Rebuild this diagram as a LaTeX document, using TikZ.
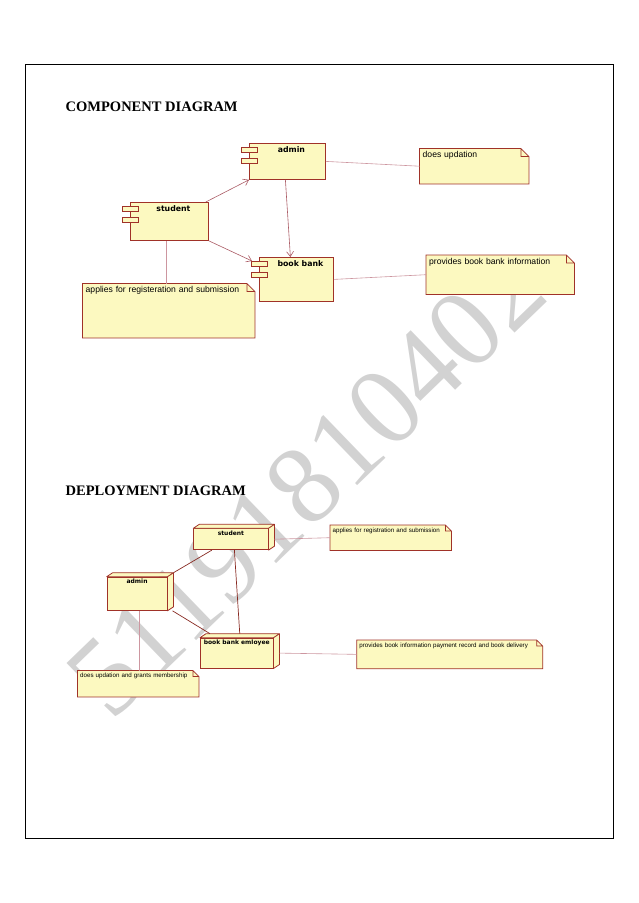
\documentclass[tikz,border=0pt]{standalone}
\usepackage{fontspec}
\setmainfont{Liberation Serif}
\newfontfamily\umlfont{DejaVu Sans}
\newfontfamily\notefont{Liberation Sans}
\usetikzlibrary{arrows.meta}

\definecolor{umlfill}{RGB}{252,249,192}
\definecolor{umlline}{RGB}{160,50,40}
\definecolor{linkline}{RGB}{170,90,100}
\definecolor{noteline}{RGB}{205,150,160}
\definecolor{markgray}{RGB}{210,210,210}

\tikzset{
  heading/.style={anchor=west, inner sep=0pt, font=\bfseries\fontsize{14.5}{17}\selectfont},
  comp/.style={draw=umlline, fill=umlfill, line width=0.8pt, anchor=north west, inner sep=3pt,
    text height=6pt, font=\umlfont\bfseries\fontsize{7.8}{9}\selectfont},
  note/.style={fill=umlfill, anchor=north west, align=left, inner sep=3pt,
    text height=6pt, font=\notefont\fontsize{8.6}{10}\selectfont},
  dnode/.style={draw=umlline, fill=umlfill, line width=0.8pt, anchor=north west, inner sep=2pt,
    text height=4.5pt, font=\umlfont\bfseries\fontsize{6}{7}\selectfont},
  dnote/.style={fill=umlfill, anchor=north west, align=left, inner sep=2.5pt,
    text height=4.5pt, font=\notefont\fontsize{6.2}{7}\selectfont},
  depend/.style={draw=linkline, line width=0.6pt, -{Straight Barb[length=5pt,width=7pt]}},
  notelink/.style={draw=noteline, line width=0.6pt},
  nodelink/.style={draw=umlline!85!black, line width=0.7pt}
}

% two small tabs on the left side of a component
\newcommand{\comptabs}[1]{%
  \filldraw[fill=umlfill, draw=umlline, line width=0.8pt]
    ([xshift=-8pt,yshift=-4pt]#1.north west) rectangle ([xshift=8pt,yshift=-9pt]#1.north west)
    ([xshift=-8pt,yshift=-15pt]#1.north west) rectangle ([xshift=8pt,yshift=-20pt]#1.north west);}

% folded corner of a note
\newcommand{\notefold}[2]{%
  \fill[white] ([xshift=-#2]#1.north east) -- (#1.north east) -- ([yshift=-#2]#1.north east) -- cycle;
  \draw[umlline, line width=0.7pt] (#1.north west) -- ([xshift=-#2]#1.north east)
    -- ([yshift=-#2]#1.north east) -- (#1.south east) -- (#1.south west) -- cycle
    ([xshift=-#2]#1.north east) |- ([yshift=-#2]#1.north east);}

% top and side faces of a deployment node
\newcommand{\nodedepth}[1]{%
  \filldraw[fill=umlfill, draw=umlline, line width=0.8pt, line join=round]
    (#1.north west) -- ([xshift=6pt,yshift=4pt]#1.north west) -- ([xshift=6pt,yshift=4pt]#1.north east)
    -- (#1.north east) -- cycle
    (#1.north east) -- ([xshift=6pt,yshift=4pt]#1.north east) -- ([xshift=6pt,yshift=4pt]#1.south east)
    -- (#1.south east) -- cycle;}

\begin{document}
\begin{tikzpicture}[x=1pt, y=-1pt]
  \useasboundingbox (0,0) rectangle (638,903);

  % watermark
  \node[rotate=44, text=markgray, inner sep=0pt, font=\fontsize{112}{112}\selectfont] (mark) at (306,484) {51191810402};

  % page frame
  \draw[line width=0.9pt] (25,64) rectangle (613,838);

  % component diagram
  \node[heading] (comptitle) at (65.5,107) {COMPONENT DIAGRAM};

  \node[comp, minimum width=76pt, text depth=24pt] (admin) at (249,143) {\hspace*{8pt}admin};
  \node[comp, minimum width=78pt, text depth=26pt] (student) at (130,202) {\hspace*{8pt}student};
  \node[comp, minimum width=74pt, text depth=32pt] (bookbank) at (259,257) {\hspace*{8pt}book bank};
  \comptabs{admin}
  \comptabs{student}
  \comptabs{bookbank}

  \node[note, text width=103pt, text depth=23pt] (updnote) at (419.5,148.5) {does updation};
  \node[note, text width=142pt, text depth=27pt] (infonote) at (426,255) {provides book bank information};
  \node[note, text width=166pt, text depth=42pt] (regnote) at (82.5,283.5) {applies for registeration and submission};
  \notefold{updnote}{8pt}
  \notefold{infonote}{8pt}
  \notefold{regnote}{8pt}

  \draw[depend] ([xshift=-3pt]student.north east) -- (admin.south west);
  \draw[depend] (student.south east) -- ([xshift=-7pt,yshift=-4pt]bookbank.north west);
  \draw[depend] ([xshift=-2pt]admin.south) -- ([xshift=-6pt]bookbank.north);
  \draw[notelink] (admin.east) -- (updnote.west);
  \draw[notelink] (bookbank.east) -- (infonote.west);
  \draw[notelink] ([xshift=-3pt]student.south) -- ([xshift=-3pt]student.south |- regnote.north);

  % deployment diagram
  \node[heading] (deptitle) at (65.5,491) {DEPLOYMENT DIAGRAM};

  \node[dnode, minimum width=74.4pt, text depth=12.5pt] (dstudent) at (193.3,528.3) {student};
  \node[dnode, minimum width=60pt, text depth=24.8pt] (dadmin) at (106.7,576.7) {admin};
  \node[dnode, minimum width=72.7pt, text depth=21.5pt] (demp) at (200,637.7) {book bank emloyee};
  \nodedepth{dstudent}
  \nodedepth{dadmin}
  \nodedepth{demp}

  \node[dnote, text width=116pt, text depth=15.5pt] (dregnote) at (330,525) {applies for registration and submission};
  \node[dnote, text width=116pt, text depth=16.5pt] (dupdnote) at (77.5,670.5) {does updation and grants membership};
  \node[dnote, text width=180.6pt, text depth=18.8pt] (dinfonote) at (356.7,640) {provides book information payment record and book delivery};
  \notefold{dregnote}{6pt}
  \notefold{dupdnote}{6pt}
  \notefold{dinfonote}{6pt}

  \draw[nodelink] ([xshift=-19pt]dstudent.south) -- ([xshift=6pt,yshift=4pt]dadmin.north east);
  \draw[nodelink] ([xshift=3.5pt]dstudent.south) -- ([xshift=3pt,yshift=4pt]demp.north);
  \draw[nodelink] ([xshift=5pt]dadmin.south east) -- ([xshift=10pt,yshift=4pt]demp.north west);
  \draw[notelink] ([xshift=2pt]dadmin.south) -- ([xshift=2pt]dadmin.south |- dupdnote.north);
  \draw[notelink] ([xshift=6pt]dstudent.east) -- (dregnote.west);
  \draw[notelink] ([xshift=6pt]demp.east) -- (dinfonote.west);
\end{tikzpicture}
\end{document}
